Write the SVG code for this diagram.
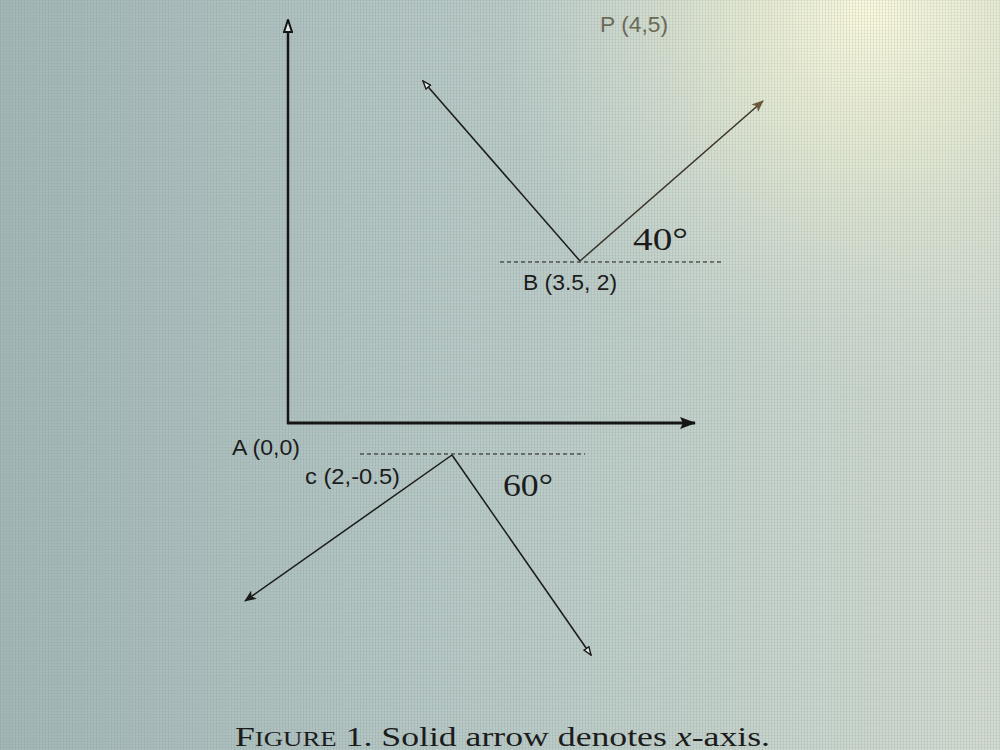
<svg xmlns="http://www.w3.org/2000/svg" width="1000" height="750" viewBox="0 0 1000 750">
  <defs>
    <linearGradient id="bg" x1="0" y1="0" x2="1" y2="0">
      <stop offset="0" stop-color="#a3b7b7"/>
      <stop offset="0.5" stop-color="#b9c9c6"/>
      <stop offset="1" stop-color="#d3dbd0"/>
    </linearGradient>
    <radialGradient id="glare" cx="870" cy="10" r="380" gradientUnits="userSpaceOnUse">
      <stop offset="0" stop-color="#fbf8dc" stop-opacity="1"/>
      <stop offset="0.4" stop-color="#eef0d4" stop-opacity="0.65"/>
      <stop offset="1" stop-color="#d8e0d4" stop-opacity="0"/>
    </radialGradient>
    <pattern id="grid" width="3" height="3" patternUnits="userSpaceOnUse">
      <rect width="3" height="3" fill="none"/>
      <rect x="0" y="0" width="1" height="3" fill="#5f7a80" opacity="0.12"/>
      <rect x="0" y="0" width="3" height="1" fill="#5f7a80" opacity="0.08"/>
    </pattern>
    <marker id="open" viewBox="0 0 10 8" refX="9" refY="4" markerWidth="10" markerHeight="8" markerUnits="userSpaceOnUse" orient="auto">
      <path d="M1,1 L9,4 L1,7 Z" fill="#e8eeea" stroke="#1a1a1a" stroke-width="1.4"/>
    </marker>
    <marker id="filled" viewBox="0 0 12 10" refX="11" refY="5" markerWidth="12" markerHeight="10" markerUnits="userSpaceOnUse" orient="auto">
      <path d="M0,0 L12,5 L0,10 L3,5 Z" fill="#1a1a1a"/>
    </marker>
    <marker id="filledBrown" viewBox="0 0 12 10" refX="11" refY="5" markerWidth="12" markerHeight="10" markerUnits="userSpaceOnUse" orient="auto">
      <path d="M0,0 L12,5 L0,10 L3,5 Z" fill="#6a5a3c"/>
    </marker>
    <marker id="axisHead" viewBox="0 0 16 12" refX="15" refY="6" markerWidth="16" markerHeight="12" markerUnits="userSpaceOnUse" orient="auto">
      <path d="M0,0 L16,6 L0,12 L3,6 Z" fill="#151515"/>
    </marker>
    <marker id="axisOpen" viewBox="0 0 14 10" refX="13" refY="5" markerWidth="14" markerHeight="10" markerUnits="userSpaceOnUse" orient="auto">
      <path d="M1,1 L13,5 L1,9 Z" fill="#dfe6e3" stroke="#151515" stroke-width="2"/>
    </marker>
  </defs>
  <style>
    .lab { font-family: "Liberation Sans", Arial, sans-serif; font-size: 22px; fill: #1c1c1c; }
    .deg { font-family: "Liberation Serif", "Times New Roman", serif; font-size: 31px; fill: #1c1c1c; }
    .cap { font-family: "Liberation Serif", "Times New Roman", serif; font-size: 28px; fill: #1c1c1c; }
    .ray { stroke: #1a1a1a; stroke-width: 1.5; fill: none; }
    .dash { stroke: #1a1a1a; stroke-width: 1.2; stroke-dasharray: 4 3; fill: none; }
  </style>

  <rect width="1000" height="750" fill="url(#bg)"/>
  <rect width="1000" height="750" fill="url(#glare)"/>
  <rect width="1000" height="750" fill="url(#grid)"/>

  <g id="connectors">
    <line id="y-axis" x1="288" y1="424" x2="288" y2="20" stroke="#151515" stroke-width="2.5" marker-end="url(#axisOpen)"/>
    <line id="x-axis" x1="287" y1="423" x2="695" y2="423" stroke="#151515" stroke-width="3" marker-end="url(#axisHead)"/>
    <line class="dash" x1="500" y1="262" x2="722" y2="262"/>
    <line class="ray" x1="580" y1="261" x2="423" y2="81" marker-end="url(#open)"/>
    <line x1="580" y1="261" x2="763" y2="101" stroke="#3a3428" stroke-width="1.5" marker-end="url(#filledBrown)"/>
    <line class="dash" x1="360" y1="454" x2="585" y2="454"/>
    <line class="ray" x1="452" y1="455" x2="245" y2="601" marker-end="url(#filled)"/>
    <line class="ray" x1="452" y1="455" x2="591" y2="655" marker-end="url(#open)"/>
  </g>

  <g id="node-P"><text class="lab" x="600" y="32" textLength="68" lengthAdjust="spacingAndGlyphs" style="fill:#6c6858">P (4,5)</text></g>
  <g id="node-B"><text class="lab" x="523" y="290" textLength="94" lengthAdjust="spacingAndGlyphs">B (3.5, 2)</text></g>
  <g id="angle-40"><text class="deg" x="633" y="250" textLength="55" lengthAdjust="spacingAndGlyphs">40°</text></g>
  <g id="node-A"><text class="lab" x="232" y="455" textLength="68" lengthAdjust="spacingAndGlyphs">A (0,0)</text></g>
  <g id="node-C"><text class="lab" x="305" y="484" textLength="95" lengthAdjust="spacingAndGlyphs">c (2,-0.5)</text></g>
  <g id="angle-60"><text class="deg" x="503" y="496" textLength="50" lengthAdjust="spacingAndGlyphs">60°</text></g>
  <g id="caption">
    <text class="cap" x="235" y="746" textLength="535" lengthAdjust="spacingAndGlyphs">F<tspan font-size="21">IGURE</tspan> 1.  Solid arrow denotes <tspan font-style="italic">x</tspan>-axis.</text>
  </g>
</svg>
